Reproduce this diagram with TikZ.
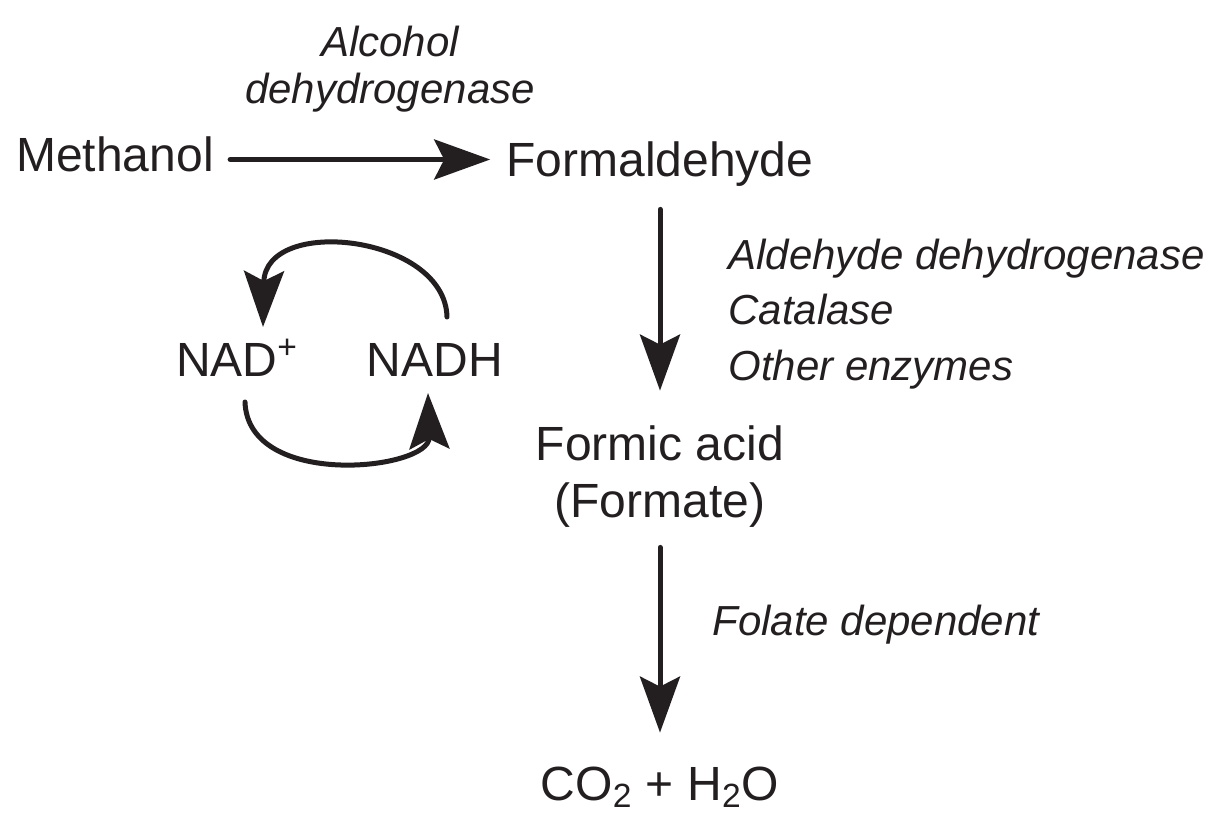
\documentclass[tikz,border=0pt]{standalone}
\usepackage{fontspec}
\setmainfont{Liberation Sans}
\usepackage{xcolor}
\usetikzlibrary{arrows.meta}
\definecolor{ink}{HTML}{231F20}

\begin{document}
\begin{tikzpicture}[x=0.5pt,y=-0.5pt, line cap=round, line join=round,
    main/.style={anchor=base, font=\fontsize{24}{29}\selectfont, text=ink,
        text height=17.5pt, text depth=5pt, inner sep=8pt},
    enz/.style={font=\fontsize{21}{26}\selectfont\itshape, text=ink, inner sep=0pt},
    arr/.style={draw=ink, line width=2.5pt, -{Stealth[length=28pt, width=20pt, inset=5pt]}}]
    \useasboundingbox (0,0) rectangle (1222,834);

    % Compounds
    \node[main] (meth) at (115,172) {Methanol};
    \node[main] (form) at (660,177) {Formaldehyde};
    \node[main] (formic) at (660,460) {Formic acid};
    \node[main] (formate) at (660,517) {(Formate)};
    \node[main] (co2) at (660,800) {CO\textsubscript{2} + H\textsubscript{2}O};
    \node[main] (nad) at (237,377) {NAD\textsuperscript{+}};
    \node[main] (nadh) at (435,377) {NADH};

    % Enzymes
    \node[enz, anchor=base] (alc1) at (390,57) {Alcohol};
    \node[enz, anchor=base] (alc2) at (390,104) {dehydrogenase};
    \foreach \t/\y/\n in {Aldehyde dehydrogenase/270/ald, Catalase/325/cat, Other enzymes/380/oth}
        \node[enz, anchor=base west] (\n) at (728,\y) {\t};
    \node[enz, anchor=base west] (fol) at (712,635) {Folate dependent};

    % Reactions
    \draw[arr] (meth.east) -- (meth.east -| form.west);
    \draw[arr, shorten <=3pt, shorten >=9pt] (form.south) -- (formic.north);
    \draw[arr, shorten <=2pt, shorten >=8pt] (formate.south) -- (co2.north);

    % NAD cycle
    \draw[arr] ([shift={(12,-60)}]nadh.base) .. controls +(-2,-82) and +(2,-112) .. ([shift={(26,-50)}]nad.base);
    \draw[arr] ([shift={(8,25)}]nad.base) .. controls +(3,88) and +(2,77) .. ([shift={(-7,16)}]nadh.base);
\end{tikzpicture}
\end{document}
